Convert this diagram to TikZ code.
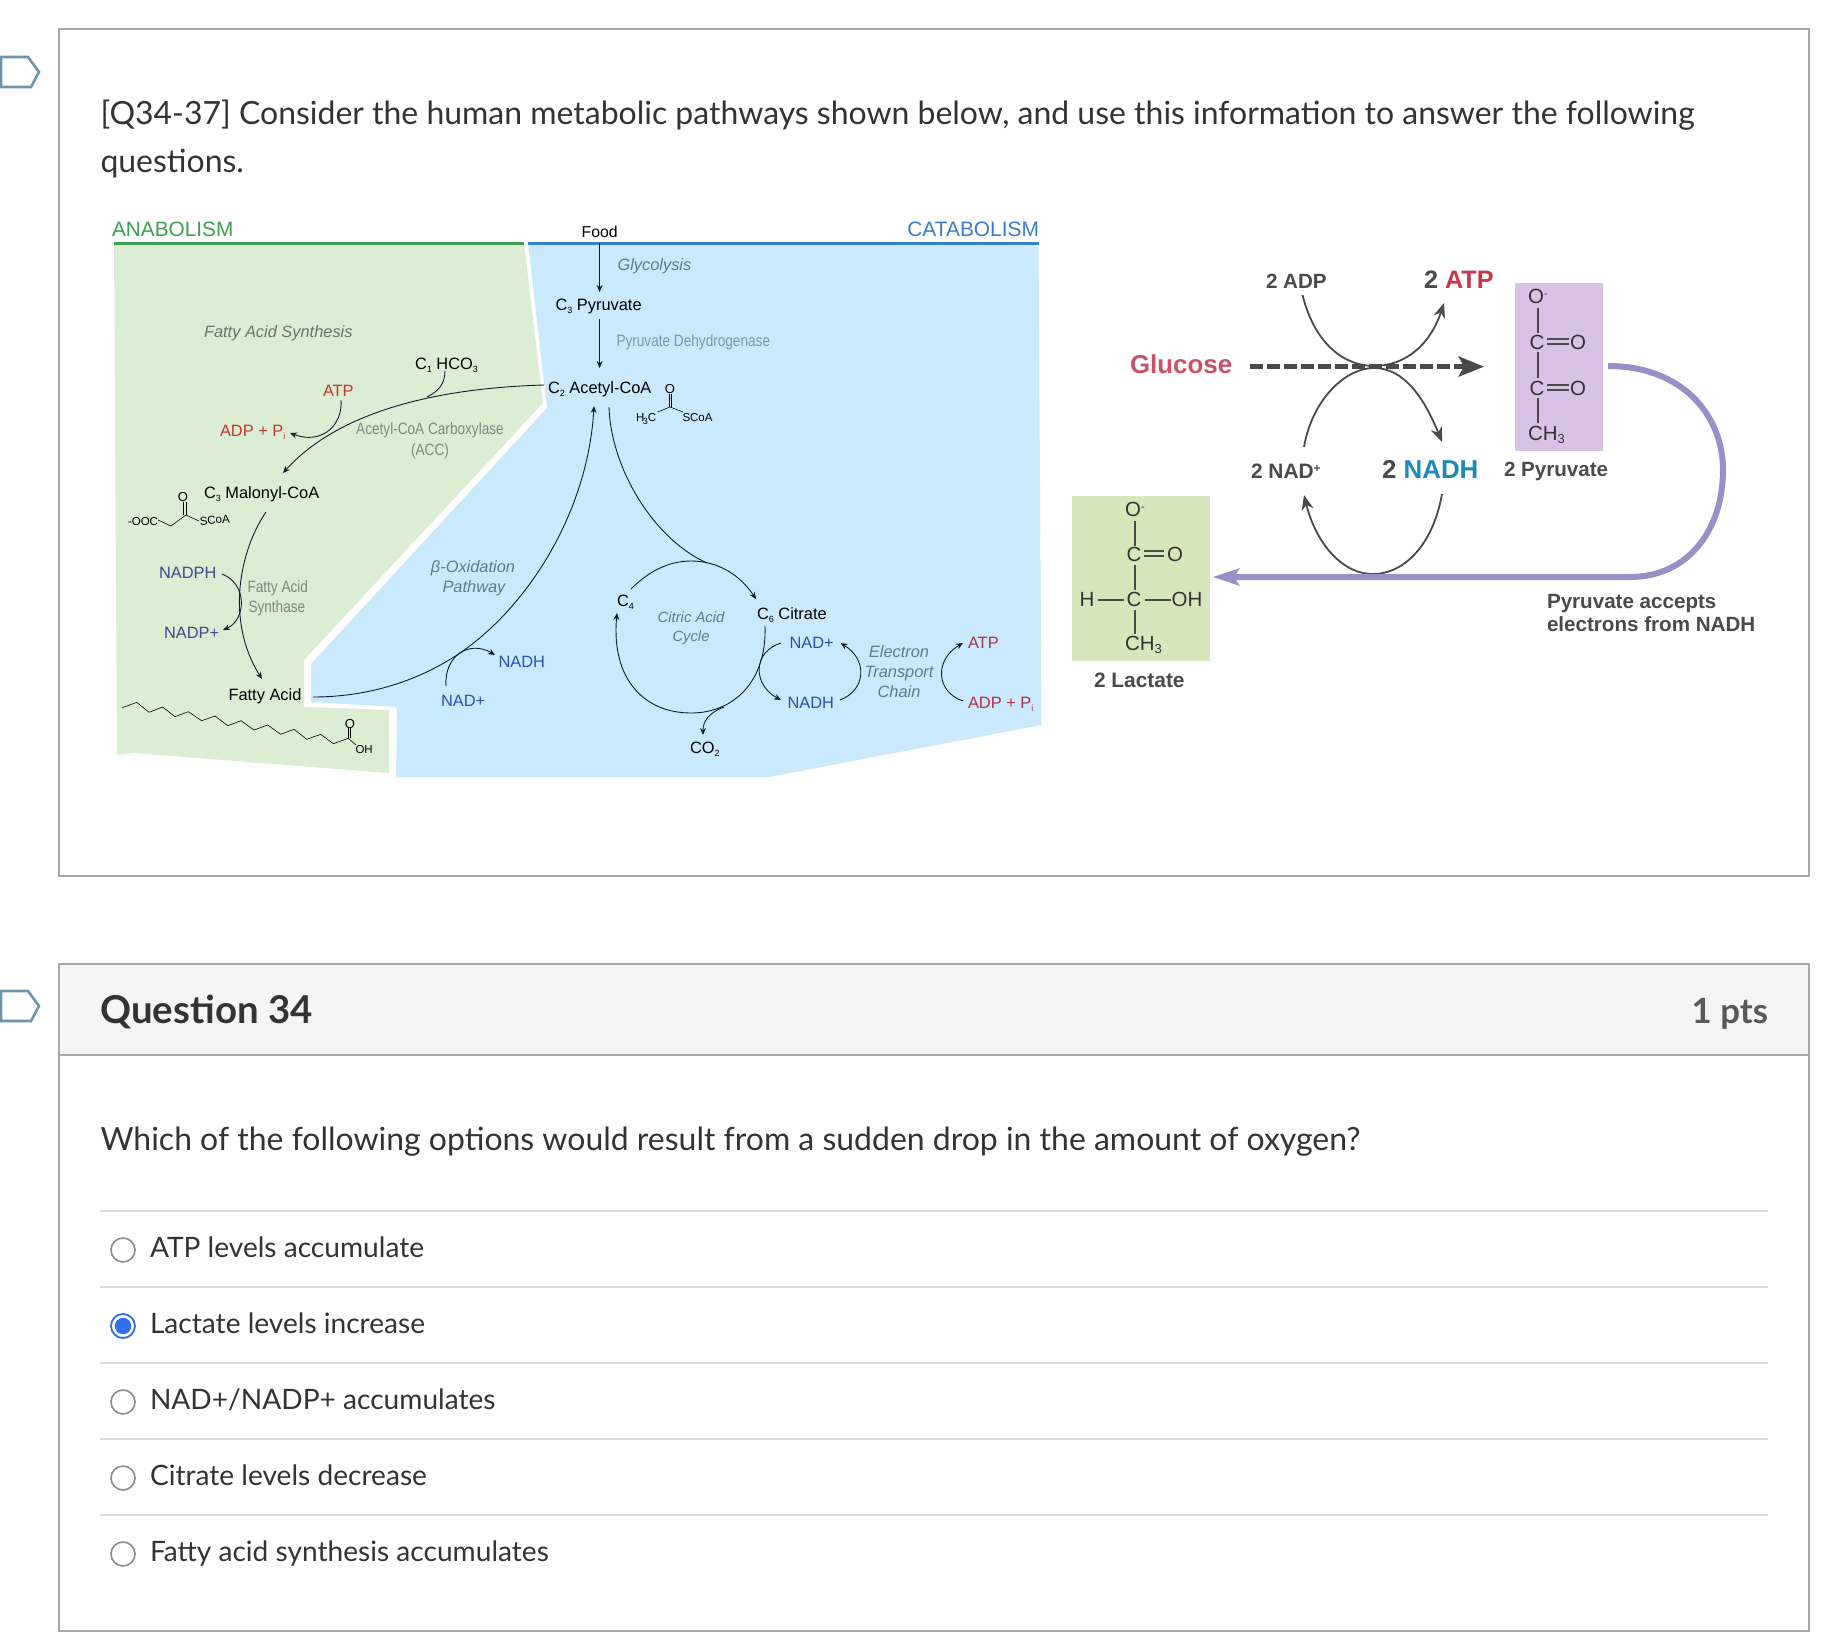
\documentclass[tikz,border=0pt]{standalone}
\usepackage{fontspec}
\usetikzlibrary{arrows.meta,calc}
\setmainfont{Liberation Sans}
\newfontfamily\ar{Liberation Sans}
\newfontfamily\arn[FakeStretch=0.83]{Liberation Sans}
\newfontfamily\lat[Ligatures=Common]{Lato}
\newcommand\lowt[1]{\raisebox{-3pt}{\fontsize{9}{9}\selectfont #1}}
\newcommand\lowr[1]{\raisebox{-3pt}{\fontsize{13}{13}\selectfont #1}}
\newcommand\fs[1]{\fontsize{#1}{#1}\selectfont}
\definecolor{cborder}{HTML}{A8A8A8}
\definecolor{cflag}{HTML}{6E94AE}
\definecolor{csep}{HTML}{DADADA}
\definecolor{ctext}{HTML}{333333}
\definecolor{cgreenbg}{HTML}{DBEDD3}
\definecolor{cbluebg}{HTML}{CAE9FD}
\definecolor{cgreenl}{HTML}{3BA050}
\definecolor{cbluel}{HTML}{3A7DC9}
\definecolor{cred}{HTML}{C03A2B}
\definecolor{crose}{HTML}{B0304A}
\definecolor{cnavy}{HTML}{3A4B8F}
\definecolor{cblue}{HTML}{2C4FB5}
\definecolor{cgreyg}{HTML}{7B8A7B}
\definecolor{cgreyb}{HTML}{7F95A5}
\definecolor{citg}{HTML}{66766A}
\definecolor{citb}{HTML}{5F7A90}
\definecolor{cline}{HTML}{10202A}
\definecolor{cpink}{HTML}{D9C2E3}
\definecolor{clime}{HTML}{D6E7BE}
\definecolor{cdark}{HTML}{4A4A4A}
\definecolor{cpurp}{HTML}{9B8FC8}
\definecolor{cglu}{HTML}{C8506A}
\definecolor{catp}{HTML}{C8384A}
\definecolor{cnadh}{HTML}{1E88B8}
\definecolor{cradio}{HTML}{2F6FED}
\tikzset{
 lb/.style={inner sep=0pt,outer sep=0pt,anchor=base west,font=\ar\fs{16.4},text=black},
 lc/.style={lb,anchor=base},
 qt/.style={inner sep=0pt,outer sep=0pt,anchor=base west,font=\lat\fs{31.96},text=ctext},
 opt/.style={qt,font=\lat\fs{28.1}},
 nar/.style={font=\arn\fs{16.4}},
 ital/.style={font=\ar\itshape\fs{16.4}},
 mol/.style={font=\ar\fs{11.5},text=black},
 rlab/.style={inner sep=0pt,outer sep=0pt,anchor=base west,font=\ar\bfseries\fs{20.6},text=cdark},
 rmol/.style={inner sep=0pt,outer sep=0pt,anchor=base west,font=\ar\fs{20.5},text=black!80},
 flow/.style={draw=cline,line width=0.9pt,-{Stealth[length=7pt,width=6pt]}},
 plain/.style={draw=cline,line width=0.9pt},
 rflow/.style={draw=cdark,line width=1.8pt,-{Stealth[length=15pt,width=12pt]}},
 bond/.style={draw=black,line width=0.6pt},
 rbond/.style={draw=cdark,line width=1.1pt},
 flag/.style={draw=cflag,line width=2.6pt,fill=white},
 box/.style={draw=cborder,line width=2pt},
 radio/.style={draw=gray!90,line width=1.6pt,fill=white},
 x=1pt,y=-1pt
}
\begin{document}
\begin{tikzpicture}
\useasboundingbox (0,0) rectangle (1848,1652);
\fill[white] (0,0) rectangle (1848,1652);

% ---------- frames
\draw[box] (59,29) rectangle (1809,876);
\fill[black!4] (59,964) rectangle (1809,1055);
\draw[box] (59,964) rectangle (1809,1631);
\draw[box] (59,1055) -- (1809,1055);
\draw[flag] (1,57) -- (28,57) -- (39,72) -- (31,87) -- (1,87) -- cycle;
\draw[flag] (1,991) -- (28,991) -- (39,1006) -- (31,1021) -- (1,1021) -- cycle;

\node[qt] (intro1) at (100.5,124.5) {[Q34-37] Consider the human metabolic pathways shown below, and use this information to answer the following};
\node[qt] (intro2) at (100.5,172) {questions.};
\node[qt,font=\lat\bfseries\fs{38.4}] (qtitle) at (100.5,1023) {Question 34};
\node[qt,anchor=base east,font=\lat\bfseries\fs{34.8},text=black!65] (qpts) at (1768,1023) {1 pts};
\node[qt] (qtext) at (100.5,1150) {Which of the following options would result from a sudden drop in the amount of oxygen?};

\foreach \yy in {1211,1287,1363,1439,1515} \draw[csep,line width=1.8pt] (100,\yy) -- (1768,\yy);
\node[radio,circle,minimum size=24pt,inner sep=0pt] (r1) at (123,1250) {};
\node[draw=cradio,line width=1.8pt,fill=white,circle,minimum size=24pt,inner sep=0pt] (r2) at (123,1326) {};
\fill[cradio] (123,1326) circle (8.2);
\node[radio,circle,minimum size=24pt,inner sep=0pt] (r3) at (123,1402) {};
\node[radio,circle,minimum size=24pt,inner sep=0pt] (r4) at (123,1478) {};
\node[radio,circle,minimum size=24pt,inner sep=0pt] (r5) at (123,1554) {};
\node[opt] (o1) at (150,1257) {ATP levels accumulate};
\node[opt] (o2) at (150,1333) {Lactate levels increase};
\node[opt] (o3) at (150,1409) {NAD+/NADP+ accumulates};
\node[opt] (o4) at (150,1485) {Citrate levels decrease};
\node[opt] (o5) at (150,1561) {Fatty acid synthesis accumulates};

% ---------- left figure: regions
\fill[cgreenbg] (114,243) -- (524,243) -- (543,403) -- (304,660) -- (304,707) -- (389,710) -- (389,773) -- (133,753) -- (117,755) -- cycle;
\fill[cbluebg] (528,243) -- (547,408) -- (311,664) -- (311,702) -- (397,707) -- (396,777) -- (769,777) -- (1041.5,725) -- (1038.5,243) -- cycle;
\draw[cgreenl,line width=2.2pt] (114,243.5) -- (524,243.5);
\draw[cbluel,line width=2.2pt] (528,243.5) -- (1039,243.5);

\node[lb,font=\ar\fs{20.8},text=cgreenl] (ana) at (112,236) {ANABOLISM};
\node[lb,anchor=base east,font=\ar\fs{20.9},text=cbluel] (cata) at (1039,236) {CATABOLISM};

% labels - anabolic side
\node[lb,ital,text=citg] (fas) at (204,337) {Fatty Acid Synthesis};
\node[lb] (hco) at (415,369) {C\lowt{1} HCO\lowt{3}};
\node[lb,text=cred] (atp1) at (323,396.5) {ATP};
\node[lb,text=cred] (adp1) at (220,436) {ADP + P\lowt{i}};
\node[lc,nar,text=cgreyg] (acc1) at (430,434.5) {Acetyl-CoA Carboxylase};
\node[lc,nar,text=cgreyg] (acc2) at (430,455) {(ACC)};
\node[lb] (mal) at (204,498) {C\lowt{3} Malonyl-CoA};
\node[lb,mol] (ooc) at (128,525) {-OOC};
\node[lb,mol,rotate=4] (scoa1) at (200,525) {SCoA};
\node[lc,mol,font=\ar\fs{13}] (ox1) at (183,501) {O};
\draw[bond] (158,520) -- (171,526) -- (186,515) -- (199,521);
\draw[bond] (186,515) -- (186,502);
\draw[bond] (183,515) -- (183,502);
\node[lb,text=cnavy] (nadph) at (159,578) {NADPH};
\node[lb,nar,text=cgreyg] (fsyn1) at (247.5,592) {Fatty Acid};
\node[lb,nar,text=cgreyg] (fsyn2) at (248.5,612) {Synthase};
\node[lb,text=cnavy] (nadp) at (164,638) {NADP+};
\node[lb] (fa) at (228.5,700) {Fatty Acid};
\node[lc,ital,text=citb] (box1) at (473,572) {β-Oxidation};
\node[lc,ital,text=citb] (box2) at (474,592) {Pathway};
\node[lb,text=cblue] (nadh1) at (498.5,667.5) {NADH};
\node[lb,text=cblue] (nad1) at (441,706) {NAD+};

% zig-zag fatty acid
\draw[bond] (122.3,707.7) -- (136.7,702.3) -- (149,712.3) -- (162.7,707) -- (175,716.7) -- (188.3,711.7) -- (201.7,720.7) -- (215,716) -- (227.7,725.7) -- (241,720.7) -- (254,730) -- (267.7,725) -- (280.7,734.3) -- (294,729.3) -- (306.7,739.3) -- (320.7,734.3) -- (333.3,743.7) -- (348.3,738.3) -- (356,745);
\draw[bond] (348.3,738.3) -- (348.3,728);
\draw[bond] (350.5,738.3) -- (350.5,728);
\node[lc,mol,font=\ar\fs{13}] (ox2) at (350,728) {O};
\node[lb,mol] (oh) at (355.5,753) {OH};

% labels - catabolic side
\node[lc,font=\ar\fs{15.8}] (food) at (599.6,237) {Food};
\node[lb,ital,text=citb] (gly) at (617.5,270) {Glycolysis};
\node[lb] (pyr) at (555.5,310) {C\lowt{3} Pyruvate};
\node[lb,nar,text=cgreyb] (pdh) at (616.5,346) {Pyruvate Dehydrogenase};
\node[lb] (aca) at (548,393) {C\lowt{2} Acetyl-CoA};
\node[lb,mol] (h3c) at (636,421) {H\lowt{\!3}C};
\node[lb,mol] (scoa2) at (682.5,421) {SCoA};
\node[lc,mol,font=\ar\fs{13}] (ox3) at (670,393) {O};
\draw[bond] (657.7,412) -- (670,407) -- (683,412);
\draw[bond] (669,407) -- (669,394);
\draw[bond] (671.5,407) -- (671.5,394);
\node[lb] (c4) at (617,606) {C\lowt{4}};
\node[lc,ital,text=citb,font=\ar\itshape\fs{14.8}] (cit1) at (691,622) {Citric Acid};
\node[lc,ital,text=citb,font=\ar\itshape\fs{14.8}] (cit2) at (691,641) {Cycle};
\node[lb] (c6) at (757,619) {C\lowt{6} Citrate};
\node[lb,text=cblue] (nad2) at (789.5,648) {NAD+};
\node[lb,text=cblue] (nadh2) at (787.5,708) {NADH};
\node[lb,text=crose] (atp2) at (968,648) {ATP};
\node[lb,text=crose] (adp2) at (968,708) {ADP + P\lowt{i}};
\node[lc,ital,text=citb] (etc1) at (899,657) {Electron};
\node[lc,ital,text=citb] (etc2) at (899,677) {Transport};
\node[lc,ital,text=citb] (etc3) at (899,697) {Chain};
\node[lb] (co2) at (690,753) {CO\lowt{2}};

% connector ends
\coordinate (foodS) at (599.6,243);
\coordinate (pyrN) at (599.6,292);
\coordinate (pyrS) at (599.6,319);
\coordinate (acaN) at (599.6,368);
\coordinate (acaW) at (544,385);
\coordinate (malN) at (283,473);
\coordinate (hcoS) at (445,371);
\coordinate (accA) at (427,397);
\coordinate (atpS) at (341,400);
\coordinate (adpE) at (290,433);
\coordinate (malS) at (266,512);
\coordinate (faN) at (262,679);
\coordinate (nphE) at (222,574);
\coordinate (npE) at (223,630);
\coordinate (faE) at (313,697);
\coordinate (bmid) at (460,653);
\coordinate (acaS1) at (594,406);
\coordinate (nadS) at (446,686);
\coordinate (nadhW) at (495,655);
\coordinate (acaS2) at (609,407);
\coordinate (tjoin) at (707,563);
\coordinate (c4N) at (631,589);
\coordinate (c6NW) at (756,599);
\coordinate (c6S) at (765,626);
\coordinate (c4S) at (617,613);
\coordinate (cbot) at (691,713);
\coordinate (ctop) at (691,561);
\coordinate (cob) at (724,707);
\coordinate (co2N) at (703,735);
\coordinate (nadW) at (781,643);
\coordinate (nadhW2) at (781,700);
\coordinate (nadhE) at (840,700);
\coordinate (nadE) at (840.5,643);
\coordinate (adpW) at (963,701);
\coordinate (atpW) at (963,643);

% connectors
\draw[flow] (foodS) -- (pyrN);
\draw[flow] (pyrS) -- (acaN);
\draw[flow] (acaW) .. controls (440,388) and (340,410) .. (malN);
\draw[plain] (hcoS) .. controls (445,385) and (437,392) .. (accA);
\draw[flow] (atpS) .. controls (343,425) and (322,445) .. (adpE);
\draw[flow] (malS) .. controls (240,550) and (225,620) .. (faN);
\draw[flow] (nphE) .. controls (248,584) and (246,620) .. (npE);
\draw[flow] (faE) .. controls (370,697) and (420,680) .. (bmid) .. controls (530,605) and (588,510) .. (acaS1);
\draw[flow] (nadS) .. controls (444,655) and (470,640) .. (nadhW);
\draw[plain] (acaS2) .. controls (611,470) and (655,540) .. (tjoin);
\draw[flow] (c4N) .. controls (648,572) and (668,561) .. (ctop) .. controls (718,561) and (740,575) .. (c6NW);
\draw[flow] (c6S) .. controls (767,680) and (735,713) .. (cbot) .. controls (645,713) and (611,680) .. (c4S);
\draw[flow] (cob) .. controls (708,713) and (703,722) .. (co2N);
\draw[flow] (nadW) .. controls (752,652) and (753,685) .. (nadhW2);
\draw[flow] (nadhE) .. controls (866,690) and (868,660) .. (nadE);
\draw[flow] (adpW) .. controls (936,692) and (934,660) .. (atpW);

% ---------- right figure
\fill[cpink] (1514.5,283) rectangle (1603,451);
\fill[clime] (1072,496) rectangle (1210,660.7);

\node[rlab] (adp3) at (1266,288) {2 ADP};
\node[rlab,font=\ar\bfseries\fs{25.2}] (atp3) at (1424,288) {2 \textcolor{catp}{ATP}};
\node[rlab,font=\ar\bfseries\fs{25.9},text=cglu] (glu) at (1130,373) {Glucose};
\node[rlab,font=\ar\bfseries\fs{20.9}] (nad3) at (1251,478) {2 NAD\raisebox{6pt}{\fs{12}+}};
\node[rlab,font=\ar\bfseries\fs{25.9}] (nadh3) at (1382,478) {2 \textcolor{cnadh}{NADH}};
\node[rlab] (pyr2) at (1504,476) {2 Pyruvate};
\node[rlab] (acc3) at (1547,608) {Pyruvate accepts};
\node[rlab] (acc4) at (1547,631) {electrons from NADH};
\node[rlab,font=\ar\bfseries\fs{20.9}] (lac) at (1094,687) {2 Lactate};

% pyruvate molecule
\node[rmol,anchor=base] (p1) at (1538,303) {O\raisebox{6pt}{\fs{11}-}};
\node[rmol,anchor=base] (p2) at (1537,349) {C};
\node[rmol,anchor=base] (p3) at (1578,349) {O};
\node[rmol,anchor=base] (p4) at (1537,395) {C};
\node[rmol,anchor=base] (p5) at (1578,395) {O};
\node[rmol] (p6) at (1528,440) {CH\lowr{3}};
\draw[rbond] (1538,308) -- (1538,333);
\draw[rbond] (1538,352) -- (1538,378);
\draw[rbond] (1538,398) -- (1538,423);
\draw[rbond] (1547,339) -- (1569,339) (1547,344) -- (1569,344);
\draw[rbond] (1547,385) -- (1569,385) (1547,390) -- (1569,390);

% lactate molecule
\node[rmol,anchor=base] (l1) at (1135,516) {O\raisebox{6pt}{\fs{11}-}};
\node[rmol,anchor=base] (l2) at (1134,561) {C};
\node[rmol,anchor=base] (l3) at (1175,561) {O};
\node[rmol,anchor=base] (l4) at (1087,606) {H};
\node[rmol,anchor=base] (l5) at (1134,606) {C};
\node[rmol,anchor=base] (l6) at (1187,606) {OH};
\node[rmol] (l7) at (1125,650) {CH\lowr{3}};
\draw[rbond] (1135,521) -- (1135,546);
\draw[rbond] (1135,565) -- (1135,590);
\draw[rbond] (1135,610) -- (1135,634);
\draw[rbond] (1144,551) -- (1164,551) (1144,556) -- (1164,556);
\draw[rbond] (1098,600) -- (1124,600) (1145,600) -- (1171,600);

\coordinate (gluE) at (1250,366.7);
\coordinate (pyrW) at (1484,366.7);
\coordinate (adpS) at (1302.5,295);
\coordinate (cross) at (1374,366);
\coordinate (atpS2) at (1444,303);
\coordinate (nadN) at (1304,447);
\coordinate (cross2) at (1374,368);
\coordinate (nadhN) at (1442,442);
\coordinate (nadhS) at (1442,494);
\coordinate (lbot) at (1373,574);
\coordinate (nadS3) at (1304,495);
\coordinate (pout) at (1608,366);
\coordinate (prt) at (1723,470);
\coordinate (pbot) at (1630,577);
\coordinate (lacE) at (1213,577);

\draw[rflow] (adpS) .. controls (1315,345) and (1345,366) .. (cross) .. controls (1405,366) and (1430,345) .. (atpS2);
\draw[rflow] (nadN) .. controls (1312,400) and (1345,368) .. (cross2) .. controls (1405,368) and (1425,400) .. (nadhN);
\draw[rflow] (nadhS) .. controls (1433,545) and (1404,574) .. (lbot) .. controls (1340,574) and (1315,540) .. (nadS3);
\draw[draw=cdark,line width=5.5pt,dash pattern=on 13pt off 4pt] (gluE) -- ($(pyrW)+(-18,0)$);
\path[fill=cdark] (1484,366.7) -- (1458,356) -- (1464,366.7) -- (1458,377) -- cycle;
\draw[cpurp,line width=6pt] (pout) .. controls (1682,366) and (1723,415) .. (prt) .. controls (1723,530) and (1688,577) .. (pbot) -- ($(lacE)+(20,0)$);
\path[fill=cpurp] (lacE) -- (1240,568) -- (1234,577) -- (1240,586) -- cycle;
\end{tikzpicture}
\end{document}
